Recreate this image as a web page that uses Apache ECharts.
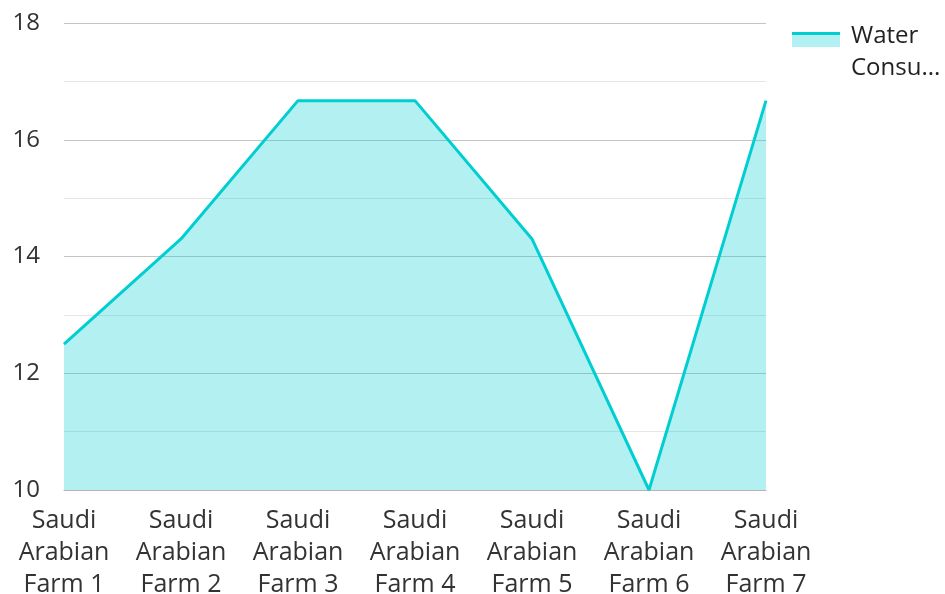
<!DOCTYPE html>
<html>
	<head>
		<meta charset="utf-8">
		<script src="https://cdn.jsdelivr.net/npm/echarts@6.0.0/dist/echarts.min.js"></script>
		<title></title>
		<style>
			html, body { margin: 0; padding: 0; background: #fff; }
		</style>
	</head>
	<body>
		<div id="main" style="width: 945px;height:594px;"></div>
		<script type="text/javascript">
			// data
			var farms = ['Saudi Arabian Farm 1', 'Saudi Arabian Farm 2', 'Saudi Arabian Farm 3',
				'Saudi Arabian Farm 4', 'Saudi Arabian Farm 5', 'Saudi Arabian Farm 6', 'Saudi Arabian Farm 7'];
			var waterUse = [12.5, 14.3, 16.67, 16.67, 14.3, 10, 16.67];
			var seriesName = 'Water Consumption';

			var myChart = echarts.init(document.getElementById('main'));

			var font = '"Open Sans", "Noto Sans", sans-serif';
			var lineColor = '#00ced1';

			var option = {
				textStyle: { fontFamily: font },
				animation: false,
				grid: { left: 64, right: 179, top: 23, bottom: 104, containLabel: false, outerBoundsMode: 'none' },
				legend: {
					left: 792, top: 20,
					padding: 0,
					icon: 'rect',
					itemWidth: 54, itemHeight: 14,
					itemGap: 10,
					itemStyle: { color: 'rgba(0,0,0,0)', opacity: 0 },
					formatter: function(name) { return 'Water\nConsu...'; },
					textStyle: { fontSize: 24, color: '#222', lineHeight: 32, fontFamily: font }
				},
				// legend swatch: line over a light area
				graphic: [{
					type: 'rect',
					shape: { x: 792, y: 33, width: 48, height: 14 },
					style: { fill: lineColor, opacity: 0.3 }
				}, {
					type: 'rect',
					shape: { x: 792, y: 32, width: 48, height: 3 },
					style: { fill: lineColor }
				}],
				xAxis: {
					type: 'category',
					data: farms,
					boundaryGap: false,
					axisLine: { lineStyle: { color: '#b4b4b4', width: 1 } },
					axisTick: { show: false },
					axisLabel: {
						fontSize: 25, color: '#333', lineHeight: 32, margin: 15,
						fontFamily: font, interval: 0,
						formatter: function(v) { return v.replace('Saudi ', 'Saudi\n').replace('Arabian ', 'Arabian\n'); }
					}
				},
				yAxis: {
					type: 'value',
					min: 10, max: 18, interval: 2,
					axisLabel: { fontSize: 24, color: '#333', margin: 24, fontFamily: font },
					splitLine: { lineStyle: { color: '#c4c4c4' } },
					minorTick: { show: false, splitNumber: 2 },
					minorSplitLine: { show: true, lineStyle: { color: '#e6e6e6' } }
				},
				series: [{
					name: seriesName,
					type: 'line',
					data: waterUse,
					symbol: 'none',
					lineStyle: { color: lineColor, width: 3 },
					itemStyle: { color: lineColor },
					areaStyle: { color: lineColor, opacity: 0.3 }
				}]
			};

			myChart.setOption(option);
		</script>
	</body>
</html>
